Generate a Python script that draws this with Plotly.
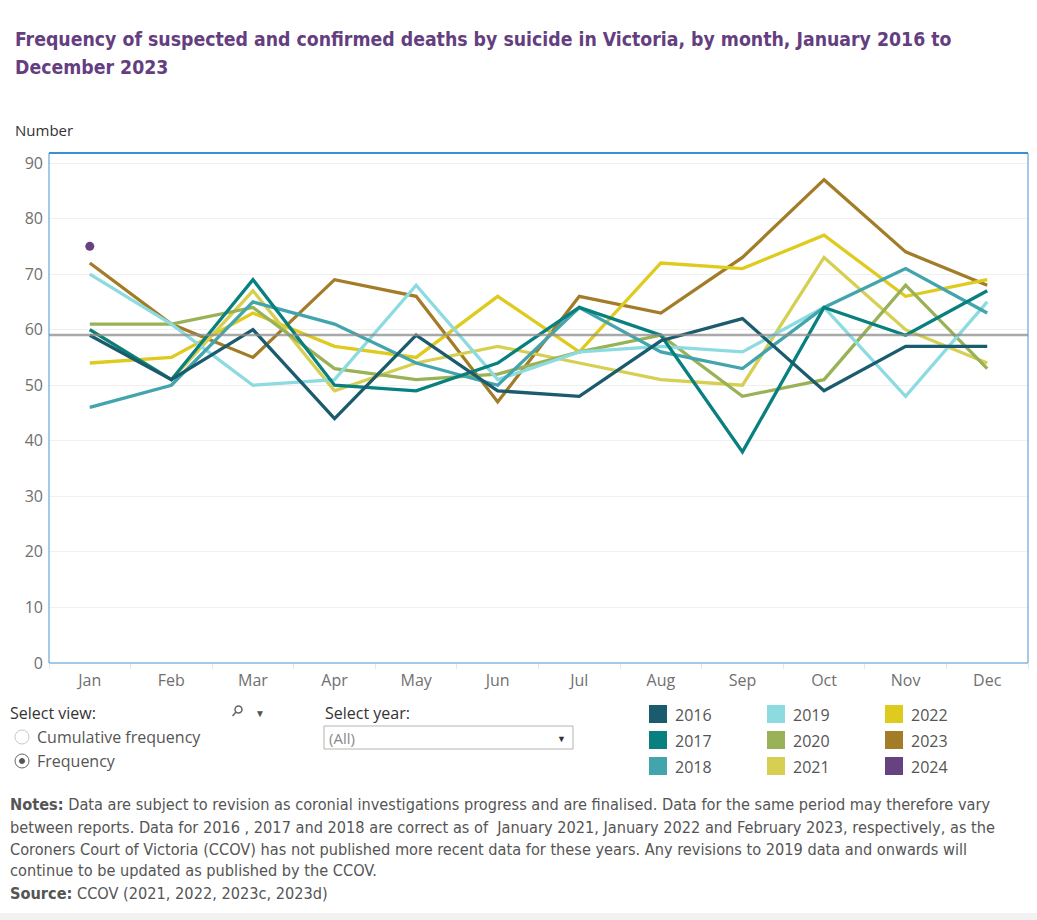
import plotly.graph_objects as go

# ---------------- data ----------------
months = ["Jan", "Feb", "Mar", "Apr", "May", "Jun", "Jul", "Aug", "Sep", "Oct", "Nov", "Dec"]
years = ["2016", "2017", "2018", "2019", "2020", "2021", "2022", "2023", "2024"]

y2016 = [59, 51, 60, 44, 59, 49, 48, 58, 62, 49, 57, 57]
y2017 = [60, 51, 69, 50, 49, 54, 64, 59, 38, 64, 59, 67]
y2018 = [46, 50, 65, 61, 54, 50, 64, 56, 53, 64, 71, 63]
y2019 = [70, 61, 50, 51, 68, 51, 56, 57, 56, 64, 48, 65]
y2020 = [61, 61, 64, 53, 51, 52, 56, 59, 48, 51, 68, 53]
y2021 = [60, 51, 67, 49, 54, 57, 54, 51, 50, 73, 60, 54]
y2022 = [54, 55, 63, 57, 55, 66, 56, 72, 71, 77, 66, 69]
y2023 = [72, 61, 55, 69, 66, 47, 66, 63, 73, 87, 74, 68]
y2024 = [75]

series = [y2016, y2017, y2018, y2019, y2020, y2021, y2022, y2023, y2024]
colors = ["#1b5b6e", "#07807f", "#42a5ad", "#8cdbe0", "#99b257",
          "#d6cf52", "#dfca1e", "#a27c27", "#674281"]

y_ticks = [0, 10, 20, 30, 40, 50, 60, 70, 80, 90]

title_l1 = "Frequency of suspected and confirmed deaths by suicide in Victoria, by month, January 2016 to"
title_l2 = "December 2023"
notes = [
    "<b>Notes:</b> Data are subject to revision as coronial investigations progress and are finalised. Data for the same period may therefore vary",
    "between reports. Data for 2016 , 2017 and 2018 are correct as of  January 2021, January 2022 and February 2023, respectively, as the",
    "Coroners Court of Victoria (CCOV) has not published more recent data for these years. Any revisions to 2019 data and onwards will",
    "continue to be updated as published by the CCOV.",
    "<b>Source:</b> CCOV (2021, 2022, 2023c, 2023d)",
]

all_vals = [v for s in series for v in s]
average = sum(all_vals) / len(all_vals)

# ---------------- layout helpers ----------------
W, H = 1037, 920
L, R, T, B = 49, 1028, 153, 663


def xp(px):
    return (px - L) / (R - L)


def yp(py):
    return (B - py) / (B - T)


NARROW = "DejaVu Sans Condensed, sans-serif"
BOOK = "Open Sans, Noto Sans, sans-serif"

fig = go.Figure()

# draw in reverse order so that 2016 ends on top (as in the reference)
for yr, vals, col in reversed(list(zip(years, series, colors))):
    if len(vals) == 1:
        fig.add_trace(go.Scatter(x=months[:len(vals)], y=vals, mode="markers",
                                 marker=dict(color=col, size=9), name=yr,
                                 showlegend=False))
    else:
        fig.add_trace(go.Scatter(x=months[:len(vals)], y=vals, mode="lines",
                                 line=dict(color=col, width=3.3), name=yr,
                                 showlegend=False))

shapes = []
# average reference line
shapes.append(dict(type="line", xref="paper", yref="y", x0=0, x1=1, y0=average, y1=average,
                   line=dict(color="rgba(140,140,140,0.75)", width=2.5), layer="above"))
# frame
shapes.append(dict(type="rect", xref="paper", yref="paper", x0=0, x1=1, y0=0, y1=1,
                   line=dict(color="#4a92cf", width=1), layer="above"))
shapes.append(dict(type="line", xref="paper", yref="paper", x0=0, x1=1, y0=1, y1=1,
                   line=dict(color="#3b8fd3", width=2), layer="above"))

annotations = []


def text(px, py, s, size=14, color="#333333", family=BOOK, anchor="left"):
    annotations.append(dict(x=xp(px), y=yp(py), xref="paper", yref="paper", text=s,
                            showarrow=False, xanchor=anchor, yanchor="middle",
                            font=dict(size=size, color=color, family=family)))


# title and axis label
text(13, 40, "<b>" + title_l1 + "</b>", size=19.3, color="#643e7f", family=NARROW)
text(13, 68, "<b>" + title_l2 + "</b>", size=19.3, color="#643e7f", family=NARROW)
text(13, 130, "Number", size=15, color="#333333")

# controls
text(8, 713, "Select view:", size=16, color="#333333")
text(35, 737, "Cumulative frequency", size=16, color="#555555")
text(35, 761, "Frequency", size=16, color="#555555")
shapes.append(dict(type="circle", xref="paper", yref="paper",
                   x0=xp(15), x1=xp(29), y0=yp(730), y1=yp(744),
                   line=dict(color="#c8c8c8", width=1), fillcolor="white"))
shapes.append(dict(type="circle", xref="paper", yref="paper",
                   x0=xp(15), x1=xp(29), y0=yp(754), y1=yp(768),
                   line=dict(color="#666666", width=1), fillcolor="white"))
shapes.append(dict(type="circle", xref="paper", yref="paper",
                   x0=xp(19.5), x1=xp(24.5), y0=yp(758.5), y1=yp(763.5),
                   line=dict(color="#555555", width=1), fillcolor="#555555"))
# magnifier icon
shapes.append(dict(type="circle", xref="paper", yref="paper",
                   x0=xp(235), x1=xp(242), y0=yp(706), y1=yp(713),
                   line=dict(color="#666666", width=1.5)))
shapes.append(dict(type="line", xref="paper", yref="paper",
                   x0=xp(236), x1=xp(232.5), y0=yp(712), y1=yp(716),
                   line=dict(color="#666666", width=1.5)))
text(260, 713, "▼", size=10, color="#555555", anchor="center")

text(323, 713, "Select year:", size=16, color="#333333")
shapes.append(dict(type="rect", xref="paper", yref="paper",
                   x0=xp(324), x1=xp(573), y0=yp(749), y1=yp(726),
                   line=dict(color="#b4b4b4", width=1), fillcolor="white"))
text(327, 738, "(All)", size=15, color="#888888")
text(561, 738, "▼", size=9, color="#333333", anchor="center")

# legend grid
col_x = [649, 767, 885]
row_y = [705, 731, 757]
for i, (yr, col) in enumerate(zip(years, colors)):
    cx = col_x[i // 3]
    ry = row_y[i % 3]
    shapes.append(dict(type="rect", xref="paper", yref="paper",
                       x0=xp(cx), x1=xp(cx + 18), y0=yp(ry + 18), y1=yp(ry),
                       line=dict(width=0), fillcolor=col))
    text(cx + 24, ry + 10, yr, size=16, color="#555555")

# notes
note_y = [804, 827, 849, 871, 893]
for s, ny in zip(notes, note_y):
    text(8, ny, s, size=16.2, color="#555555", family=NARROW)

# bottom band
shapes.append(dict(type="rect", xref="paper", yref="paper",
                   x0=xp(0), x1=xp(W), y0=yp(H), y1=yp(913),
                   line=dict(width=0), fillcolor="#f2f2f2"))

fig.update_layout(
    width=W, height=H,
    margin=dict(l=L, r=W - R, t=T, b=H - B),
    paper_bgcolor="white", plot_bgcolor="white",
    showlegend=False,
    shapes=shapes, annotations=annotations,
    xaxis=dict(type="category", categoryorder="array", categoryarray=months,
               range=[-0.5, 11.5], tickson="boundaries", ticks="outside", ticklen=5,
               tickcolor="#e6e6e6", showgrid=False, zeroline=False, showline=False,
               ticklabelstandoff=6,
               tickfont=dict(size=16, color="#707070", family=BOOK), fixedrange=True),
    yaxis=dict(range=[0, 91.8], tickvals=y_ticks, ticks="", showgrid=True,
               gridcolor="#f0f0f0", gridwidth=1, zeroline=False, showline=False,
               ticklabelstandoff=5,
               tickfont=dict(size=16, color="#707070", family=BOOK), fixedrange=True),
)

fig.write_html("out.html")
